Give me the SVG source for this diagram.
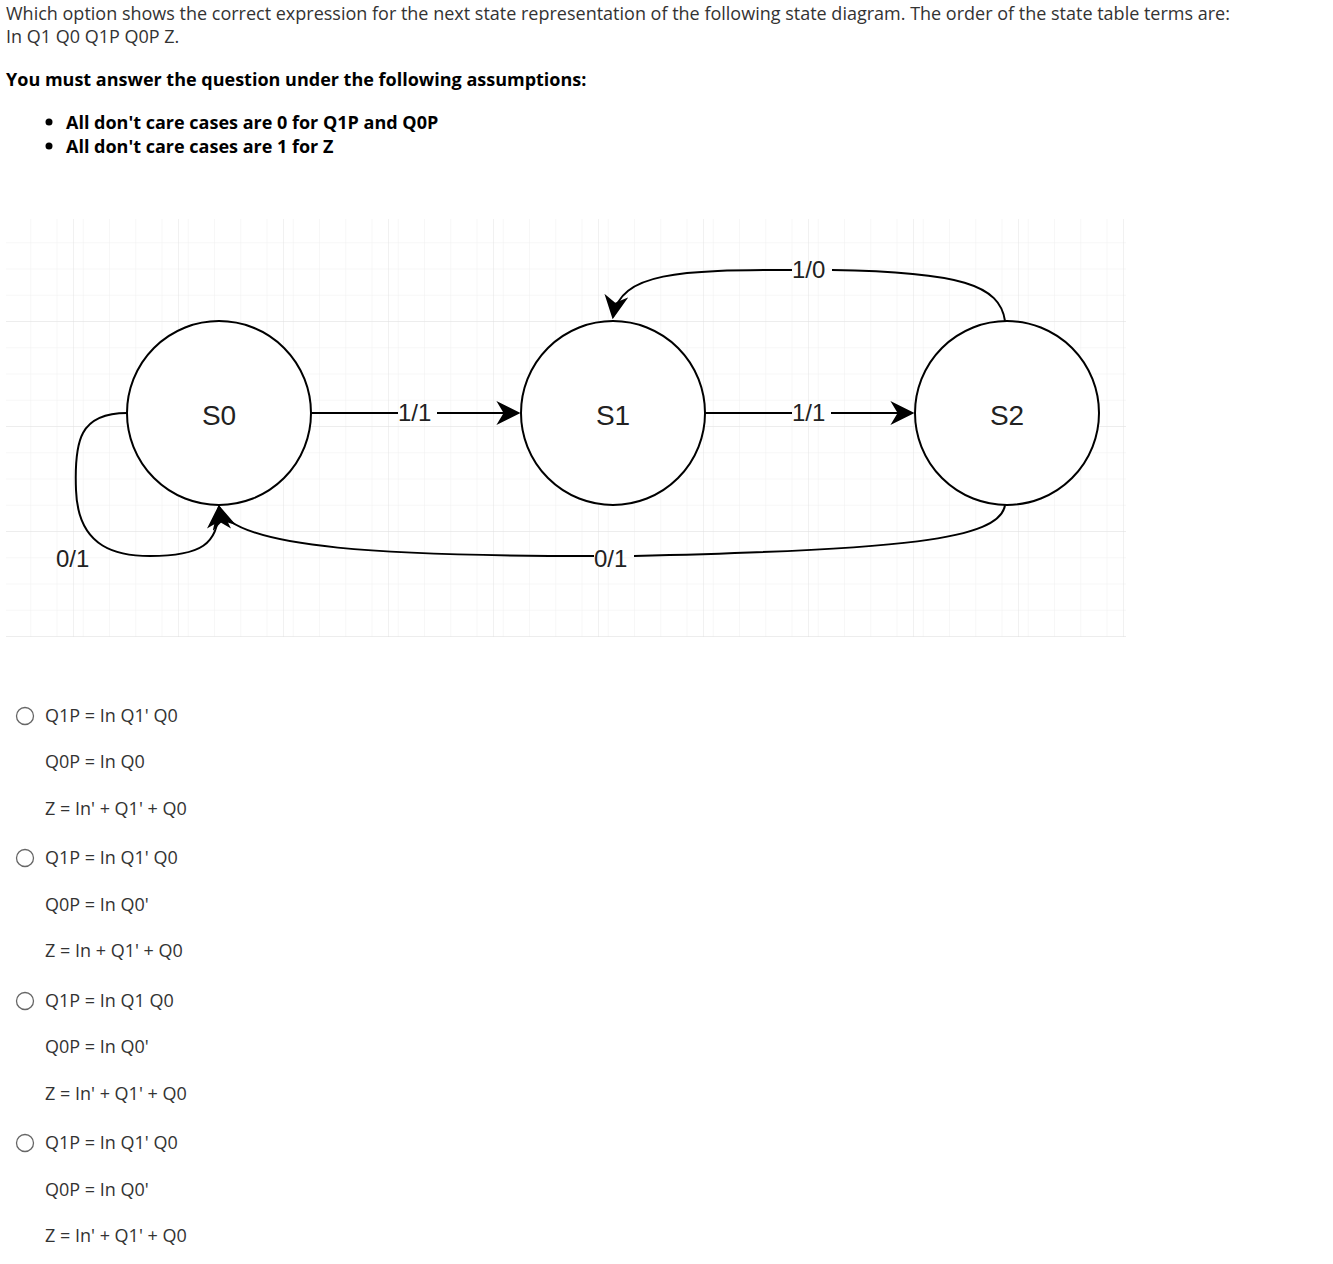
<svg xmlns="http://www.w3.org/2000/svg" width="1333" height="1264" viewBox="0 0 1333 1264">
<defs>
<pattern id="minor" x="5" y="217" width="26.25" height="26.25" patternUnits="userSpaceOnUse"><path d="M26.25 0V26.25M0 26.25H26.25" fill="none" stroke="#f0f0f0" stroke-width="1"/></pattern>
<pattern id="major" x="-31" y="217" width="105" height="105" patternUnits="userSpaceOnUse"><path d="M105 0V105M0 105H105" fill="none" stroke="#e2e2e2" stroke-width="1"/></pattern>
<marker id="ah" viewBox="0 0 10 10" refX="9" refY="5" markerWidth="24" markerHeight="24" markerUnits="userSpaceOnUse" orient="auto"><path d="M0 0L10 5L0 10L3 5Z" fill="#000"/></marker>
</defs>
<style>
.q{font-family:"Open Sans","Noto Sans",sans-serif;font-size:18px;fill:#333}
.b{font-family:"Open Sans","Noto Sans",sans-serif;font-size:18px;font-weight:bold;fill:#000}
.o{font-family:"Open Sans","Noto Sans",sans-serif;font-size:18px;fill:#333}
.st{fill:#fff;stroke:#000;stroke-width:2}
.sl{font-family:"Liberation Sans",Arial,sans-serif;font-size:28px;fill:#222;text-anchor:middle}
.el{font-family:"Liberation Sans",Arial,sans-serif;font-size:24px;fill:#222}
.c{fill:none;stroke:#000;stroke-width:2}
.r{fill:#fff;stroke:#666;stroke-width:1.3}
</style>
<rect width="1333" height="1264" fill="#fff"/>
<text class="q" x="6" y="20">Which option shows the correct expression for the next state representation of the following state diagram. The order of the state table terms are:</text>
<text class="q" x="6" y="43">In Q1 Q0 Q1P Q0P Z.</text>
<text class="b" x="6" y="86">You must answer the question under the following assumptions:</text>
<circle cx="49" cy="122" r="3.5" fill="#000"/><text class="b" x="66" y="129">All don't care cases are 0 for Q1P and Q0P</text>
<circle cx="49" cy="146" r="3.5" fill="#000"/><text class="b" x="66" y="153">All don't care cases are 1 for Z</text>
<rect x="6" y="219" width="1120" height="418" fill="url(#minor)"/>
<rect x="6" y="219" width="1120" height="418" fill="url(#major)"/>
<g id="connectors">
<path class="c" d="M311 413H398M437 413H518" marker-end="url(#ah)"/>
<text class="el" x="398" y="421">1/1</text>
<path class="c" d="M705 413H792M831 413H912" marker-end="url(#ah)"/>
<text class="el" x="792" y="421">1/1</text>
<path class="c" d="M1005 321C1000 285 960 272 832 270M792 270C680 270 620 272 613 317" marker-end="url(#ah)"/>
<text class="el" x="792" y="278">1/0</text>
<path class="c" d="M1005 505C1000 540 900 550 634 556M594 556C400 556 230 550 219 507" marker-end="url(#ah)"/>
<text class="el" x="594" y="567">0/1</text>
<path class="c" d="M127 413C80 413 74 440 76 490C78 550 120 556 150 556C200 556 219 545 219 507" marker-end="url(#ah)"/>
<text class="el" x="56" y="567">0/1</text>
</g>
<g id="S0"><circle class="st" cx="219" cy="413" r="92"/><text class="sl" x="219" y="425">S0</text></g>
<g id="S1"><circle class="st" cx="613" cy="413" r="92"/><text class="sl" x="613" y="425">S1</text></g>
<g id="S2"><circle class="st" cx="1007" cy="413" r="92"/><text class="sl" x="1007" y="425">S2</text></g>
<g id="options">
<circle class="r" cx="25" cy="716" r="8.5"/>
<text class="o" x="45" y="722">Q1P = In Q1' Q0</text>
<text class="o" x="45" y="768">Q0P = In Q0</text>
<text class="o" x="45" y="815">Z =  In' + Q1' + Q0</text>
<circle class="r" cx="25" cy="858" r="8.5"/>
<text class="o" x="45" y="864">Q1P = In Q1' Q0</text>
<text class="o" x="45" y="911">Q0P = In Q0'</text>
<text class="o" x="45" y="957">Z =  In + Q1' + Q0</text>
<circle class="r" cx="25" cy="1001" r="8.5"/>
<text class="o" x="45" y="1007">Q1P = In Q1 Q0</text>
<text class="o" x="45" y="1053">Q0P = In Q0'</text>
<text class="o" x="45" y="1100">Z =  In' + Q1' + Q0</text>
<circle class="r" cx="25" cy="1143" r="8.5"/>
<text class="o" x="45" y="1149">Q1P = In Q1' Q0</text>
<text class="o" x="45" y="1196">Q0P = In Q0'</text>
<text class="o" x="45" y="1242">Z =  In' + Q1' + Q0</text>
</g>
</svg>
